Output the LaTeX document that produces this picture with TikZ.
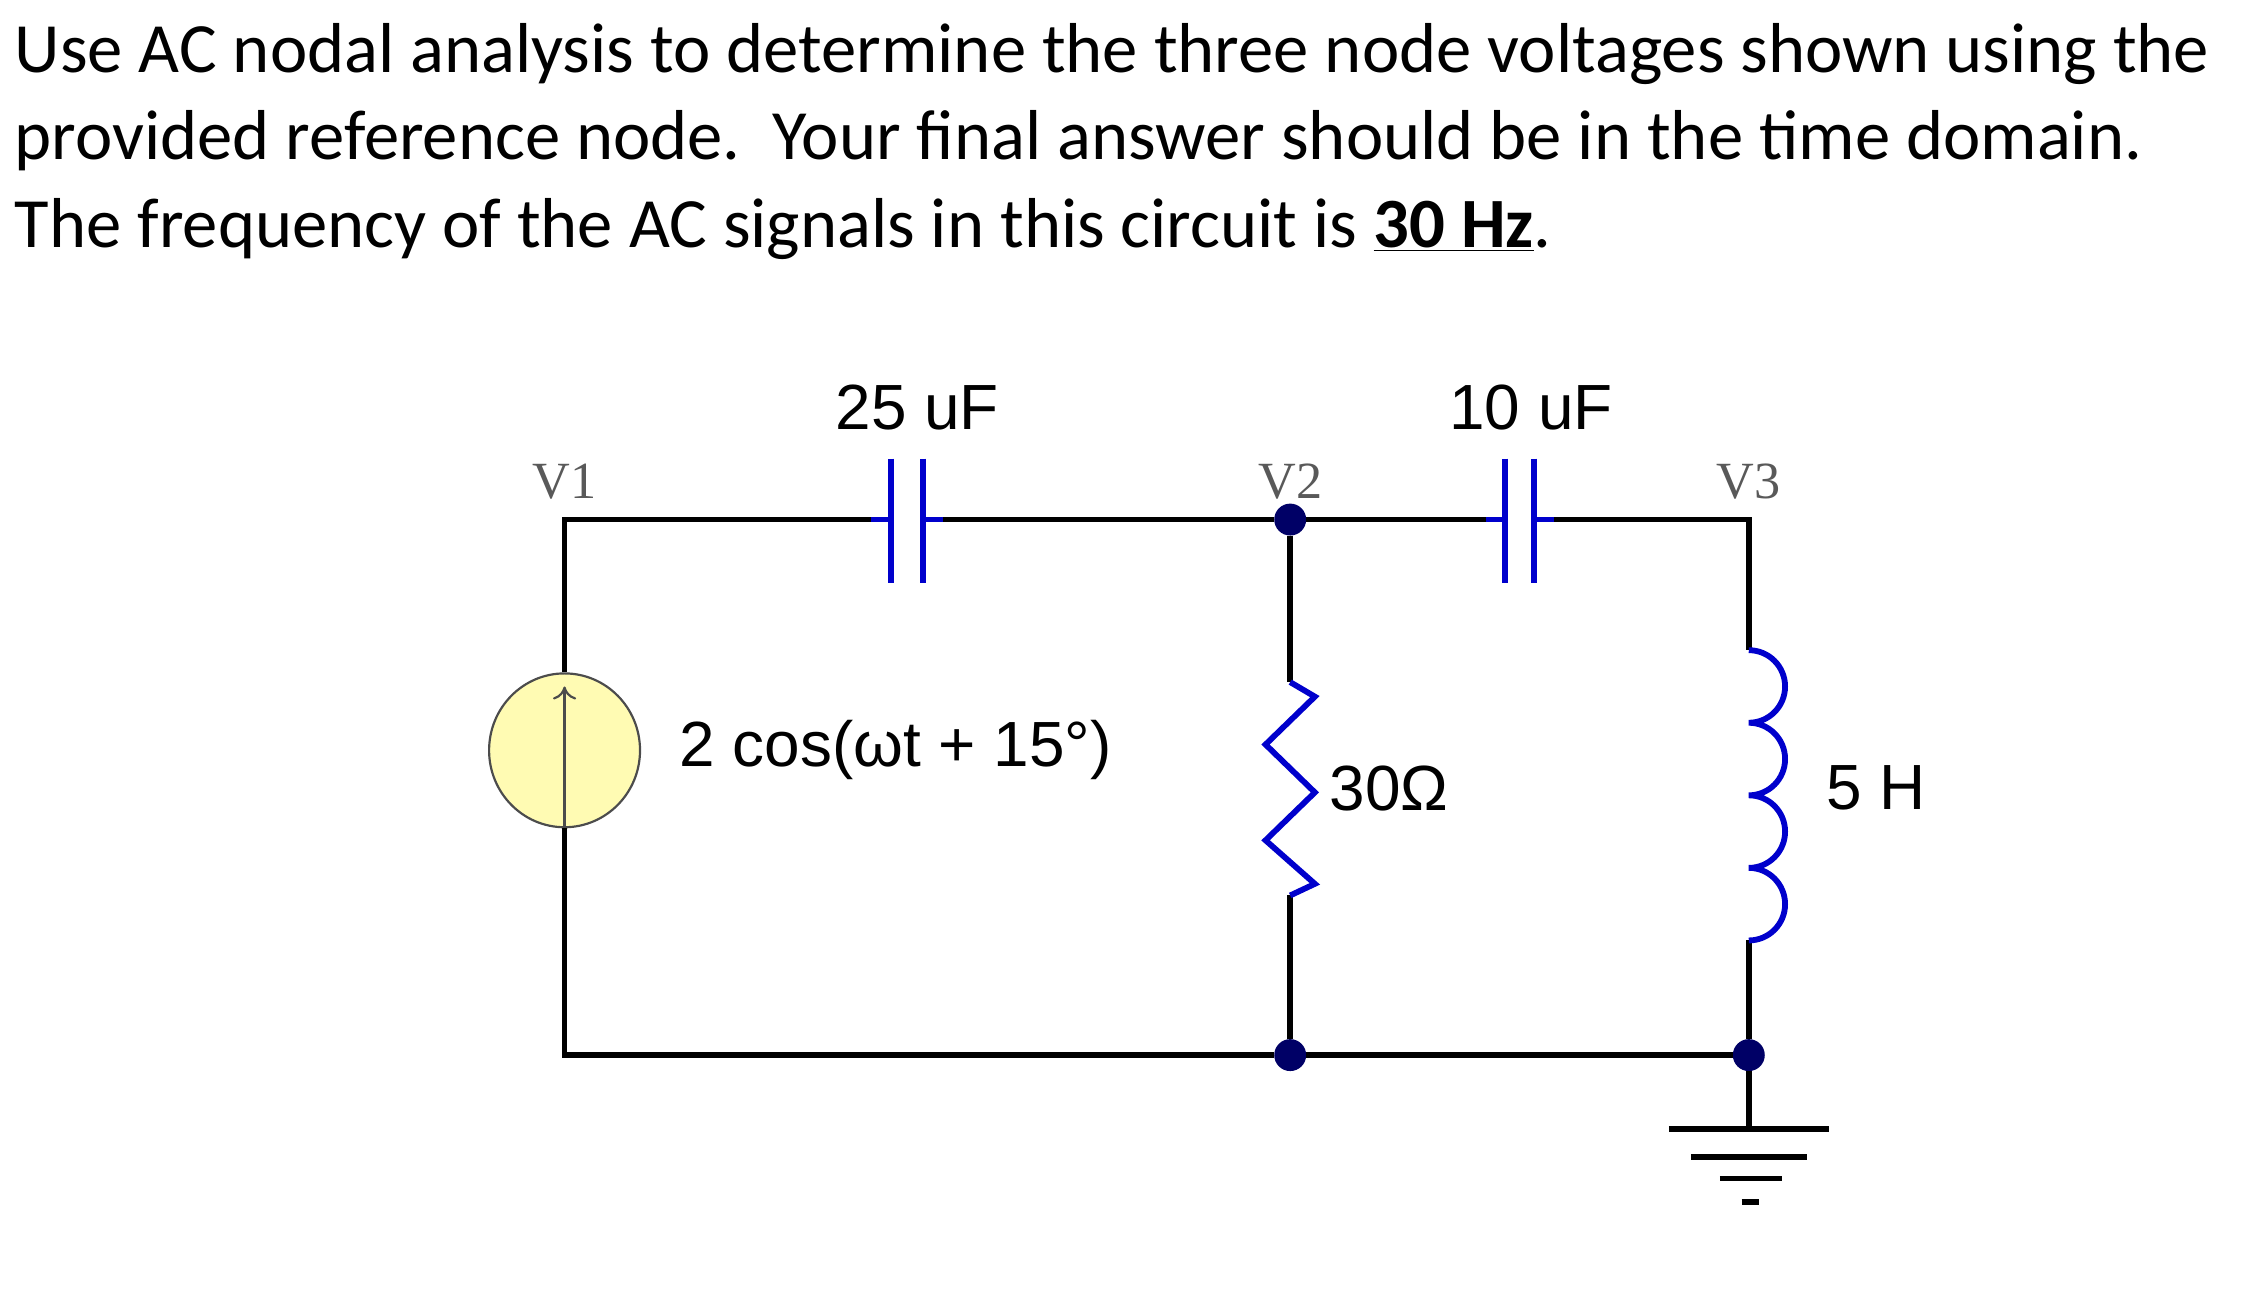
\documentclass[tikz,border=0pt]{standalone}
\usepackage{fontspec}
\usetikzlibrary{shapes.geometric,arrows.meta}
\setmainfont{Carlito}
\newfontfamily\arial{Liberation Sans}
\newfontfamily\lserif{Liberation Serif}
\begin{document}
\begin{tikzpicture}[x=1pt,y=-1pt,
  wire/.style={line width=4pt,black},
  comp/.style={line width=4pt,blue!80!black},
  lab/.style={font=\arial\fontsize{44}{46}\selectfont,inner sep=0pt},
  vlab/.style={font=\lserif\fontsize{36}{38}\selectfont,text=gray!70!black,inner sep=0pt},
  title/.style={font=\fontsize{48.7}{56}\selectfont,anchor=west,inner sep=0pt},
  dot/.style={circle,fill=blue!40!black,minimum size=22pt,inner sep=0pt}]
\useasboundingbox (0,0) rectangle (1560,897);
\node[title] (t1) at (10,37) {Use AC nodal analysis to determine the three node voltages shown using the};
\node[title] (t2) at (10,97) {provided reference node.\ \ Your final answer should be in the time domain.};
\node[title] (t3) at (10,158) {The frequency of the AC signals in this circuit is \underline{\textbf{30 Hz}}.};
% nodes
\coordinate (A) at (389,358);
\coordinate (B) at (389,727);
\coordinate (C1l) at (614,358);
\coordinate (C1r) at (636,358);
\coordinate (C2l) at (1037,358);
\coordinate (C2r) at (1057,358);
\coordinate (D) at (1205,358);
\coordinate (Lt) at (1205,448);
\coordinate (Lb) at (1205,648);
\coordinate (Rt) at (889,470);
\coordinate (Rb) at (889,617);
\coordinate (G) at (1205,778);
\node[dot] (n2) at (889,358) {};
\node[dot] (n0) at (889,727) {};
\node[dot] (n3) at (1205,727) {};
\node[ellipse,draw=gray!60!black,line width=1.5pt,fill=yellow!30,minimum width=104pt,minimum height=106pt,inner sep=0pt] (src) at (389,517) {};
% wires
\draw[wire] (src.north) -- (A) -- (C1l);
\draw[wire] (C1r) -- (n2) -- (C2l);
\draw[wire] (C2r) -- (D) -- (Lt);
\draw[wire] (src.south) -- (B) -- (n0) -- (n3);
\draw[wire] (n2) -- (Rt);
\draw[wire] (Rb) -- (n0);
\draw[wire] (Lb) -- (n3) -- (G);
% capacitors
\draw[comp] (C1l) -- (600,358) (C1r) -- (650,358);
\draw[comp] (614,316) -- (614,402) (636,316) -- (636,402);
\draw[comp] (C2l) -- (1024,358) (C2r) -- (1071,358);
\draw[comp] (1037,316) -- (1037,402) (1057,316) -- (1057,402);
% resistor
\draw[comp,line join=miter] (Rt) -- (906,480) -- (872,513) -- (906,546) -- (872,579) -- (906,609) -- (Rb);
% inductor
\draw[comp] (Lt) arc[start angle=90,end angle=-90,radius=25pt] arc[start angle=90,end angle=-90,radius=25pt] arc[start angle=90,end angle=-90,radius=25pt] arc[start angle=90,end angle=-90,radius=25pt];
% source arrow
\draw[gray!60!black,line width=1.5pt,-{To[length=9pt,width=16pt]}] (389,570) -- (389,473);
% ground
\draw[wire] (1150,778) -- (1260,778);
\draw[wire] (1165,797) -- (1245,797);
\draw[wire] (1185,812) -- (1228,812);
\draw[wire] (1200,828) -- (1212,828);
% labels
\node[lab] (l1) at (632,281) {25 uF};
\node[lab] (l2) at (1055,281) {10 uF};
\node[vlab] (v1) at (389,332) {V1};
\node[vlab] (v2) at (889,332) {V2};
\node[vlab] (v3) at (1205,332) {V3};
\node[lab,anchor=west] (ls) at (468,517) {2 cos(ωt + 15°)};
\node[lab,anchor=west] (lr) at (916,543) {30Ω};
\node[lab,anchor=west] (li) at (1258,543) {5 H};
\end{tikzpicture}
\end{document}
